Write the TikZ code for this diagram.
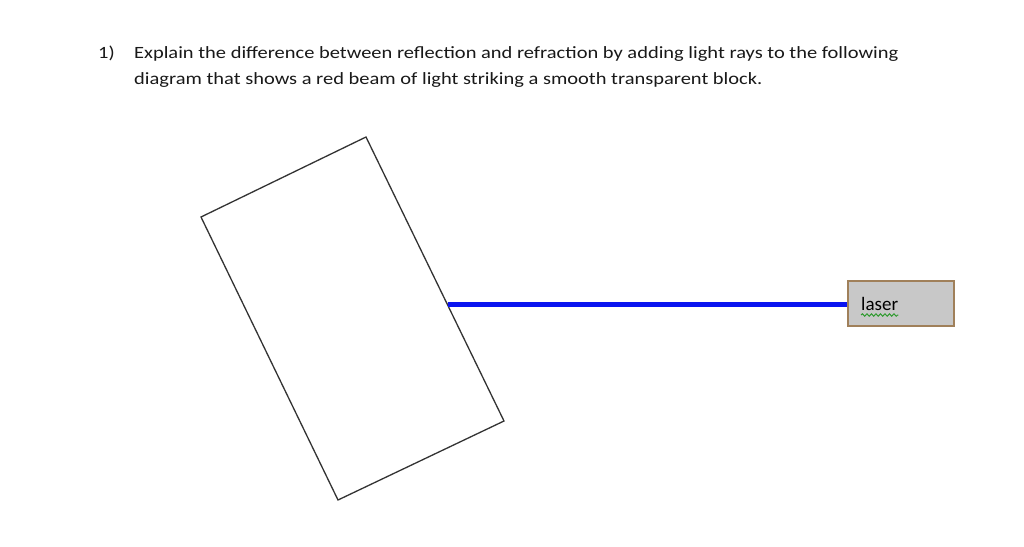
\documentclass[tikz,border=0pt]{standalone}
\usepackage{fontspec}
\setmainfont{Carlito}
\newfontfamily\qfont[FakeStretch=1.19]{Carlito}
\usetikzlibrary{decorations.pathmorphing,calc}
\definecolor{blockline}{HTML}{333333}
\definecolor{beamblue}{HTML}{0A14F0}
\definecolor{laserfill}{HTML}{C8C8C8}
\definecolor{laserborder}{HTML}{A0805A}
\definecolor{spellgreen}{HTML}{2E9A2E}
\tikzset{
  qtext/.style={anchor=base west, inner sep=0pt, font=\qfont\fontsize{17.2}{20}\selectfont, text=black!90},
  blockedge/.style={draw=blockline, line width=1.3pt, line join=miter},
  beam/.style={draw=beamblue, line width=5pt},
  laserbox/.style={draw=laserborder, fill=laserfill, line width=1.3pt, minimum width=106pt, minimum height=45pt, inner sep=0pt},
  lasertext/.style={anchor=base west, inner sep=0pt, font=\fontsize{19}{22}\selectfont},
  squiggle/.style={draw=spellgreen, line width=1pt, decorate, decoration={snake, amplitude=1.2pt, segment length=4.5pt}}
}
\begin{document}
\begin{tikzpicture}[x=1pt,y=-1pt]
\useasboundingbox[fill=white] (0,0) rectangle (1024,546);
% question text
\node[qtext] (num) at (98,58) {1)};
\node[qtext] (l1) at (134,58) {Explain the difference between reflection and refraction by adding light rays to the following};
\node[qtext] (l2) at (134,84) {diagram that shows a red beam of light striking a smooth transparent block.};
% block
\coordinate (bt) at (366,137);
\coordinate (bl) at (201,217);
\coordinate (bb) at (338,500);
\coordinate (br) at (504,421);
\draw[blockedge] (bt) -- (bl) -- (bb) -- (br) -- cycle;
\coordinate (hit) at ($(bt)!0.5915!(br)$);
% laser
\node[laserbox] (laser) at (901,303.5) {};
\node[lasertext] (laserlbl) at (861,310) {laser};
\draw[beam] (hit) -- (hit -| laser.west);
\draw[squiggle] ([yshift=-5pt]laserlbl.base west) -- ([yshift=-5pt]laserlbl.base east);
\end{tikzpicture}
\end{document}
